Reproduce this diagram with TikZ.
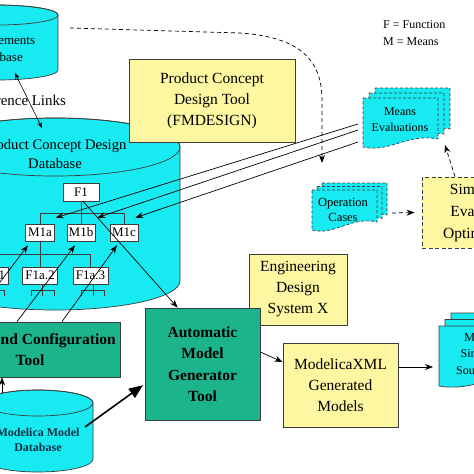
\documentclass[tikz,border=0pt]{standalone}
\usepackage{fontspec}
\setmainfont{Liberation Serif}
\usetikzlibrary{arrows.meta,calc}
\definecolor{cyanfill}{RGB}{24,234,242}
\definecolor{greenfill}{RGB}{28,180,140}
\definecolor{yellowfill}{RGB}{252,247,160}
\definecolor{edgecol}{RGB}{60,60,60}
\definecolor{dbtext}{RGB}{8,50,70}
\newcommand\dbcyl[5]{%
  \filldraw[dbfill] ({#1-#4},#2) -- ({#1-#4},#3)
    arc[start angle=180,end angle=0,x radius=#4,y radius=#5]
    -- ({#1+#4},#2)
    arc[start angle=0,end angle=-180,x radius=#4,y radius=#5] -- cycle;
  \draw[dbfill,fill=none] (#1,#2) ellipse[x radius=#4,y radius=#5];}
\newcommand\onedoc[5]{%
  \filldraw[#5] (#1,#2) -- ({#1+#3},#2) -- ({#1+#3},{#2+#4-8})
    .. controls ({#1+0.6*#3},{#2+#4-14}) and ({#1+0.35*#3},{#2+#4+6}) .. (#1,{#2+#4}) -- cycle;}
\tikzset{
  box/.style={draw=edgecol, line width=0.8pt, align=center, inner sep=2pt},
  ybox/.style={box, fill=yellowfill, font=\fontsize{15.5}{21}\selectfont},
  gbox/.style={box, fill=greenfill, font=\fontsize{15.5}{21.5}\selectfont\bfseries},
  fbox/.style={draw=edgecol, line width=0.6pt, fill=white, font=\fontsize{13}{15}\selectfont, inner sep=0pt},
  tree/.style={draw=edgecol, line width=0.6pt},
  arr/.style={-{Stealth[length=8pt,width=6pt]}, line width=0.7pt, black},
  bigarr/.style={-{Triangle[length=14pt,width=11pt]}, line width=1.6pt, black},
  darr/.style={arr, dash pattern=on 4pt off 3pt},
  dbfill/.style={fill=cyanfill, draw=edgecol, line width=0.7pt},
  docst/.style={fill=cyanfill, draw=edgecol, line width=0.7pt},
  ddoc/.style={docst, dash pattern=on 3pt off 2pt},
  txt/.style={align=center, inner sep=0pt},
  subtree/.pic={\draw[tree] (0,0) -- (0,6) (-11.5,6) -- (11.5,6) (-11.5,6) -- (-11.5,12) (11.5,6) -- (11.5,12) (0,6) -- (0,12);}
}
\begin{document}
\begin{tikzpicture}[x=1pt,y=-1pt]
\useasboundingbox (0,0) rectangle (474,474);
\clip (0,0) rectangle (474,474);

% Requirements database
\dbcyl{-3}{15}{70}{61}{10}
\node[txt, font=\fontsize{13}{17}\selectfont] (req) at (-1,48.5) {Requirements\\Database};

% Product concept design database
\dbcyl{55}{147}{281}{125}{29}
\node[txt, font=\fontsize{14.6}{19}\selectfont] (pcd) at (55,154.5) {Product Concept Design\\Database};

% Reference links
\node[txt, anchor=east, font=\fontsize{14.9}{18}\selectfont] (rl) at (66,100) {Reference Links};
\coordinate (rqA) at (15,73);
\coordinate (pcA) at (42,128);
\draw[{Stealth[length=6pt,width=4.5pt]}-{Stealth[length=6pt,width=4.5pt]}, line width=0.6pt] (rqA) -- (pcA);

% Product concept design tool
\node[ybox, minimum width=166, minimum height=83] (pcdt) at (212,100.5) {Product Concept\\Design Tool\\(FMDESIGN)};

% legend
\node[txt, anchor=west, align=left, font=\fontsize{12}{17}\selectfont] (leg) at (383,33.5) {F = Function\\M = Means};

% dashed curve from requirements
\coordinate (dcA) at (70,28);
\coordinate (dcB) at (322,163);
\draw[darr] (dcA) -- (240,33) .. controls (300,37) and (322,60) .. (322,100) -- (dcB);

% Means evaluations
\onedoc{375}{88}{75}{49}{ddoc}
\onedoc{369}{93}{75}{49}{ddoc}
\onedoc{363}{98}{75}{49}{ddoc}
\node[txt, font=\fontsize{12}{16}\selectfont] (me) at (400,120) {Means\\Evaluations};

% Operation cases
\onedoc{322}{183}{65}{40}{ddoc}
\onedoc{317}{186.5}{65}{40}{ddoc}
\onedoc{312}{190}{65}{40}{ddoc}
\node[txt, font=\fontsize{12.5}{15}\selectfont] (opc) at (343,209.5) {Operation\\Cases};

% Simulation box
\node[ybox, dash pattern=on 4pt off 2.5pt, minimum width=124, minimum height=71, font=\fontsize{15.5}{22}\selectfont] (sim) at (484,212.5) {Simulation\\Evaluation\\Optimization};

% Engineering design system
\node[ybox, minimum width=98, minimum height=71] (eng) at (298,289.5) {Engineering\\Design\\System X};

% Function / means tree
\node[fbox, minimum width=36, minimum height=18] (f1) at (81,192) {F1};
\node[fbox, minimum width=29, minimum height=17] (m1a) at (40,232.5) {M1a};
\node[fbox, minimum width=28, minimum height=17] (m1b) at (81,232.5) {M1b};
\node[fbox, minimum width=28, minimum height=17] (m1c) at (124,232.5) {M1c};
\node[fbox, minimum width=35, minimum height=17] (f1a1) at (-9.5,275.5) {F1a.1};
\node[fbox, minimum width=35, minimum height=17] (f1a2) at (40,275.5) {F1a.2};
\node[fbox, minimum width=35, minimum height=17] (f1a3) at (90.5,275.5) {F1a.3};
\coordinate (t1) at (81,213);
\draw[tree] (f1.south) -- (t1);
\draw[tree] (m1a.north) |- (m1c.north |- t1) -- (m1c.north);
\draw[tree] (m1b.north) -- (m1b.north |- t1);
\coordinate (t2) at (0,254);
\draw[tree] (f1a1.north) |- (f1a3.north |- t2) -- (f1a3.north);
\draw[tree] (m1a.south) -- (f1a2.north);
\pic at ([xshift=2.5pt]f1a1.south) {subtree};
\pic at ([xshift=2.5pt]f1a2.south) {subtree};
\pic at ([xshift=2.5pt]f1a3.south) {subtree};

% Automatic model generator
\node[gbox, minimum width=115, minimum height=112] (auto) at (202.5,364) {Automatic\\Model\\Generator\\Tool};

% Configuration tool
\node[gbox, minimum width=180, minimum height=55] (cfg) at (30,349.5) {Design and Configuration\\Tool};

% Modelica model database
\dbcyl{38}{403}{459}{55}{13}
\node[txt, font=\fontsize{12}{15}\selectfont\bfseries, text=dbtext] (mdb) at (38,439.5) {Modelica Model\\Database};

% ModelicaXML
\node[ybox, minimum width=115, minimum height=84] (xml) at (340.5,385) {ModelicaXML\\Generated\\Models};

% Source docs
\onedoc{451}{313}{96}{60}{docst}
\onedoc{445}{319.5}{96}{60}{docst}
\onedoc{439}{326}{96}{60}{docst}
\node[txt, font=\fontsize{12}{16.5}\selectfont] (src) at (487,353.5) {Modelica\\Simulation\\Source Code};

% Means connectors
\coordinate (meA) at (358,124);
\coordinate (meB) at (358,130);
\coordinate (meC) at (358,142);
\draw[arr] (meA) -- ([shift={(1,-6)}]m1a.north east);
\draw[arr] (meB) -- ([shift={(2,-6)}]m1b.north east);
\draw[arr] (meC) -- ([shift={(-3,-6)}]m1c.north east);

% F1 to automatic
\draw[arr] ([xshift=2pt]f1.south) -- ([xshift=33pt]auto.north west);

% Configuration arrows
\draw[arr] ([xshift=-60pt]cfg.north) -- ([shift={(-12,4)}]m1a.south);
\draw[arr] ([xshift=-13pt]cfg.north) -- ([shift={(-6,4)}]m1b.south);
\draw[arr] ([xshift=32pt]cfg.north) -- ([shift={(-7,4)}]m1c.south);

% Modelica DB arrows
\coordinate (mdbT) at (2,393);
\draw[arr] (mdbT) -- (cfg.south -| mdbT);
\coordinate (mdbR) at (85,427);
\draw[bigarr, shorten >=2pt] (mdbR) -- ([yshift=-20pt]auto.west);

% Generator to XML to source
\draw[arr] ([yshift=12pt]auto.east) -- ([yshift=23pt]xml.west);
\coordinate (srcL) at (433,367);
\draw[arr] ([yshift=18pt]xml.east) -- (srcL);

% Operation cases to simulation, simulation to means
\coordinate (opR) at (392,213);
\draw[darr] (opR) -- ([xshift=-7pt]sim.west);
\coordinate (meE) at (445,145);
\draw[darr] ([xshift=-29pt]sim.north) -- (meE);
\end{tikzpicture}
\end{document}
